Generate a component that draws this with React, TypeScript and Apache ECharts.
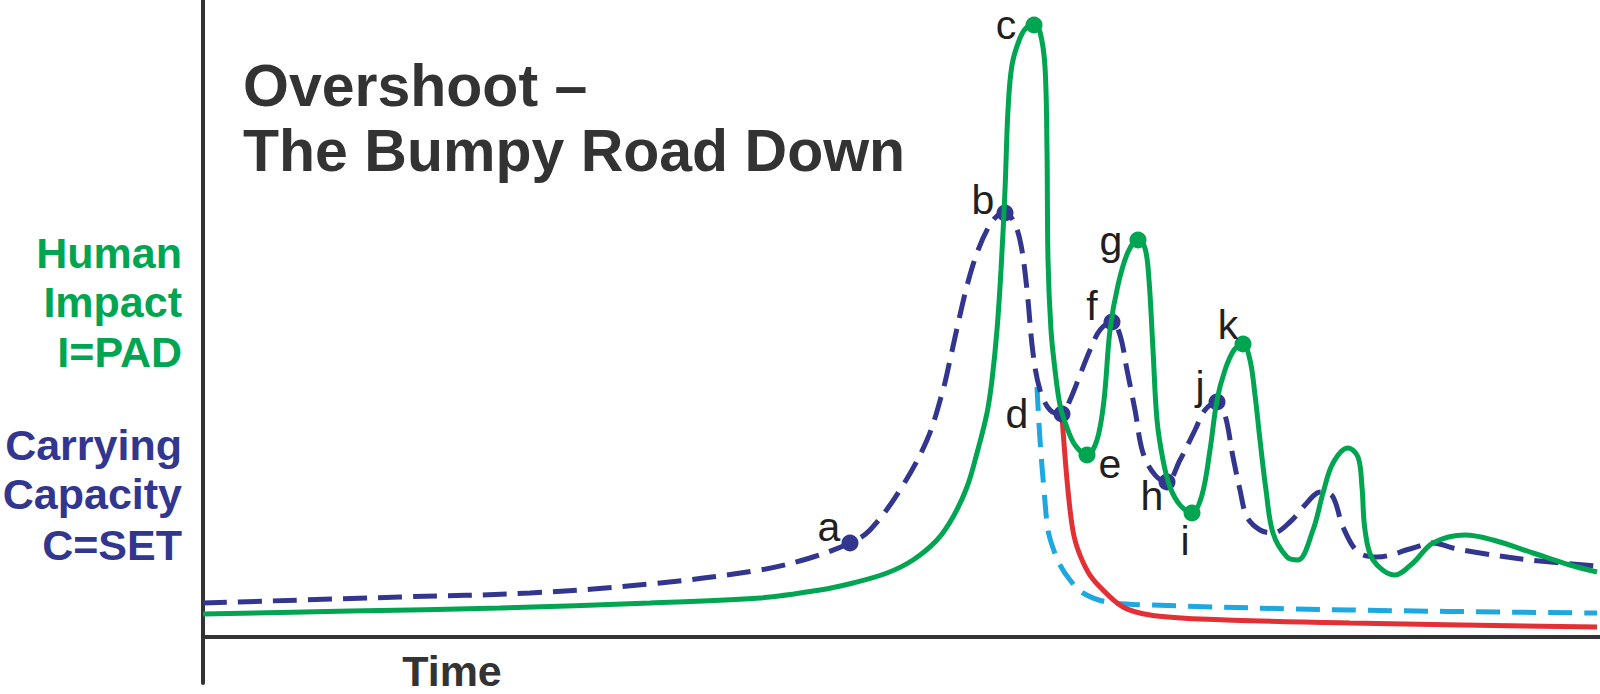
import React, { useEffect, useRef } from "react";
import * as echarts from "echarts";

// ---- Data (time in arbitrary units 0..139.7, level in arbitrary units) ----
const IMPACT_T = [0, 14.7, 29.7, 44.7, 55.7, 61.7, 65, 68.4, 71, 73.4, 75, 76.4, 77.4, 78.4, 78.9, 79.4, 79.8, 80.2, 80.5, 80.9, 81.7, 82.4, 83.1, 83.7, 84.2, 84.4, 84.5, 84.8, 85.2, 85.7, 86.3, 87.2, 88.4, 89.4, 90.1, 90.7, 91.5, 92.5, 93.5, 94.2, 94.6, 95, 95.4, 96, 96.7, 97.7, 98.9, 99.9, 100.7, 101.4, 102.2, 103.1, 104, 104.7, 105.2, 105.7, 106.3, 107, 108.4, 109.5, 111, 112, 113, 114.5, 115.5, 115.9, 116.2, 117, 119.2, 121, 123, 126.2, 129, 133, 136.7, 139.4];
const IMPACT_V = [4.6, 5.2, 5.8, 6.8, 7.8, 9.4, 10.8, 12.8, 15.4, 19.4, 24, 30, 36.8, 44.8, 51.4, 61.4, 73.4, 89.4, 105.4, 114.4, 119.8, 122, 122.4, 121, 114, 97.4, 75.4, 61.4, 53.4, 46.4, 42.4, 38.4, 36.4, 39.4, 47.4, 61.4, 70.4, 77, 79.4, 77.8, 71.4, 57.4, 43.4, 35.4, 30, 26.4, 24.8, 28.4, 37.4, 47.4, 53.4, 57.4, 58.6, 55.4, 48.4, 39.4, 29.4, 20.8, 16, 15.4, 21.4, 28.8, 34.8, 37.8, 36, 30, 21.4, 15.4, 12.4, 14.8, 18.8, 20.4, 19.4, 16.8, 14.4, 13];

const CAPACITY_T = [0, 19.7, 32.7, 44.7, 55.7, 60.7, 64.7, 66.7, 69.7, 72.4, 74, 74.7, 75.7, 76.5, 77.4, 78.5, 79.4, 80.2, 81.1, 81.8, 82.4, 83, 83.7, 84.7, 85.9, 86.7, 87.7, 88.7, 89.7, 90.9, 91.7, 92.4, 93.2, 94, 95.2, 96.4, 97.7, 99.2, 100.2, 101.4, 102.2, 103, 103.7, 104.4, 105.7, 107, 108.7, 110.2, 111.4, 112, 113, 114, 115.5, 117.4, 121, 123, 125, 127.7, 132.7, 139.4];
const CAPACITY_V = [6.8, 8, 8.8, 10.6, 13.4, 15.8, 18.8, 21.4, 29.4, 39.4, 49.4, 55.4, 64.4, 71, 76.8, 81.8, 84.2, 84.8, 83, 78.4, 69.4, 56.8, 49.4, 45.4, 44.6, 47.4, 52.4, 57.4, 61.4, 63, 60.4, 53.4, 45.4, 36.8, 32.4, 31, 35.4, 41.4, 45.4, 47, 44.4, 36, 29.4, 24, 21.4, 20.8, 23, 26.4, 28.8, 29, 28, 22, 17, 16, 17.8, 18.8, 17.8, 16.8, 15.4, 14.2];

const COLLAPSE_T = [85.9, 86, 86.4, 86.9, 87.4, 88.5, 89.7, 92, 94.7, 99.7, 114.7, 139.4];
const COLLAPSE_V = [44.6, 41.4, 31.4, 22.4, 18, 13, 10, 6, 4.4, 3.6, 2.8, 2];

const COLLAPSE_C_T = [83.4, 83.7, 84.1, 84.5, 85, 85.7, 86.7, 88, 90.4, 94.7, 114.7, 139.4];
const COLLAPSE_C_V = [50, 39.4, 29.4, 21.4, 17.8, 14.4, 11.4, 8.8, 7, 6.4, 5.4, 4.8];

const POINT_NAMES = ["a", "b", "c", "d", "e", "f", "g", "h", "i", "j", "k"];
const POINT_T = [64.7, 80.2, 83.1, 85.9, 88.4, 90.9, 93.5, 96.4, 98.9, 101.4, 104];
const POINT_V = [18.8, 84.8, 122.4, 44.6, 36.4, 63, 79.4, 31, 24.8, 47, 58.6];
const POINT_CURVE = ["capacity", "capacity", "impact", "capacity", "impact", "capacity", "impact", "capacity", "impact", "capacity", "impact"];

const TITLE_LINES = ["Overshoot \u2013", "The Bumpy Road Down"];
const IMPACT_LABEL = ["Human", "Impact", "I=PAD"];
const CAPACITY_LABEL = ["Carrying", "Capacity", "C=SET"];
const X_NAME = "Time";

// ---- Styles ----
const GREEN = "#00a551";
const BLUE = "#33368f";
const RED = "#e33035";
const LIGHTBLUE = "#1ea8e0";
const DARK = "#333333";
const LETTER = "#231f20";
const FONT = "'Liberation Sans', Arial, Helvetica, sans-serif";

// label offsets (px) of each point letter relative to its dot
const LABEL_OFFSETS: Record<string, [number, number]> = {
  a: [-21, -16],
  b: [-22, -13],
  c: [-28, 0],
  d: [-45, 0],
  e: [23, 9],
  f: [-20, -16],
  g: [-27, 1],
  h: [-15, 14],
  i: [-7, 28],
  j: [-17, -16],
  k: [-15, -19],
};

const zip = (t: number[], v: number[]) => t.map((x, i) => [x, v[i]]);

export default function App() {
  const ref = useRef<HTMLDivElement>(null);

  useEffect(() => {
    if (!ref.current) return;
    const chart = echarts.init(ref.current, undefined, { renderer: "svg" });

    const mkPoints = (curve: string, color: string) =>
      POINT_NAMES.map((n, i) => ({ n, i }))
        .filter(({ i }) => POINT_CURVE[i] === curve)
        .map(({ n, i }) => ({
          name: n,
          value: [POINT_T[i], POINT_V[i]],
          itemStyle: { color, opacity: 1 },
          label: { offset: LABEL_OFFSETS[n] },
        }));

    const pointLabel = {
      show: true,
      position: "inside",
      formatter: "{b}",
      color: LETTER,
      fontSize: 41,
      fontFamily: FONT,
      fontWeight: "normal",
    };

    const textLines = (lines: string[], x: number, baselines: number[], size: number, color: string, align: string, weight = "bold") =>
      lines.map((t, i) => ({
        type: "text",
        x,
        y: baselines[i] - 0.3465 * size,
        style: {
          text: t,
          fill: color,
          font: `${weight} ${size}px ${FONT}`,
          align,
          verticalAlign: "middle",
          lineHeight: Math.round(size * 0.7),
        },
        z: 100,
      }));

    chart.setOption({
      animation: false,
      backgroundColor: "#ffffff",
      grid: { left: 203, right: 0, top: 0, bottom: 11 },
      xAxis: {
        type: "value",
        min: 0,
        max: 139.7,
        axisLine: { show: true, onZero: true, lineStyle: { color: DARK, width: 4 } },
        axisTick: { show: false },
        axisLabel: { show: false },
        splitLine: { show: false },
      },
      yAxis: {
        type: "value",
        min: -9.2,
        max: 127.4,
        axisLine: { show: true, lineStyle: { color: DARK, width: 4 } },
        axisTick: { show: false },
        axisLabel: { show: false },
        splitLine: { show: false },
      },
      series: [
        {
          name: "Collapse of carrying capacity",
          type: "line",
          data: zip(COLLAPSE_C_T, COLLAPSE_C_V),
          smooth: 0.35,
          symbol: "none",
          z: 1,
          lineStyle: { color: LIGHTBLUE, width: 5, type: [24, 12] },
        },
        {
          name: "Collapse of impact",
          type: "line",
          data: zip(COLLAPSE_T, COLLAPSE_V),
          smooth: 0.35,
          symbol: "none",
          z: 2,
          lineStyle: { color: RED, width: 5 },
        },
        {
          name: "Carrying Capacity",
          type: "line",
          data: zip(CAPACITY_T, CAPACITY_V),
          smooth: 0.35,
          symbol: "none",
          z: 3,
          lineStyle: { color: BLUE, width: 5, type: [24, 11] },
        },
        {
          name: "Capacity points",
          type: "scatter",
          data: mkPoints("capacity", BLUE),
          symbolSize: 17,
          z: 4,
          itemStyle: { opacity: 1 },
          label: pointLabel,
        },
        {
          name: "Human Impact",
          type: "line",
          data: zip(IMPACT_T, IMPACT_V),
          smooth: 0.35,
          symbol: "none",
          z: 5,
          lineStyle: { color: GREEN, width: 5 },
        },
        {
          name: "Impact points",
          type: "scatter",
          data: mkPoints("impact", GREEN),
          symbolSize: 17,
          z: 6,
          itemStyle: { opacity: 1 },
          label: pointLabel,
        },
      ],
      graphic: [
        ...textLines(TITLE_LINES, 243, [106, 171], 59, DARK, "left"),
        ...textLines(IMPACT_LABEL, 182, [268, 317, 367], 43, GREEN, "right"),
        ...textLines(CAPACITY_LABEL, 182, [460, 509, 560], 43, BLUE, "right"),
        ...textLines([X_NAME], 452, [686], 43, DARK, "center"),
      ],
    });

    return () => chart.dispose();
  }, []);

  return (
    <div
      ref={ref}
      style={{ position: "absolute", left: 0, top: 0, width: 1600, height: 694, background: "#fff" }}
    />
  );
}
